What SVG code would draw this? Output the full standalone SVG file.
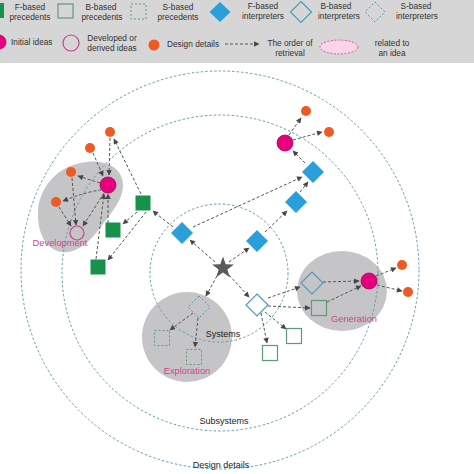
<svg xmlns="http://www.w3.org/2000/svg" width="474" height="474" viewBox="0 0 474 474">
<defs>
<marker id="ah" viewBox="0 0 10 10" refX="9" refY="5" markerWidth="7" markerHeight="5.5" orient="auto" markerUnits="userSpaceOnUse"><path d="M0,0 L10,5 L0,10 Z" fill="#474747"/></marker>
<style>
.lt{font-family:"Liberation Sans",Arial,sans-serif;font-size:8.3px;fill:#333;text-anchor:middle}
.lbl{font-family:"Liberation Sans",Arial,sans-serif;font-size:9px;fill:#222;text-anchor:middle}
.pk{font-family:"Liberation Sans",Arial,sans-serif;font-size:9.3px;fill:#d2438f;text-anchor:middle}
.ring{fill:none;stroke:#5f9fb3;stroke-width:1;stroke-dasharray:2.5,2}
.blob{fill:#c5c5c7}
.fsq{fill:#17924a}
.bsq{fill:#fff;stroke:#5a9c78;stroke-width:1.2}
.ssq{fill:none;stroke:#5a9c78;stroke-width:1;stroke-dasharray:2,2}
.fdi{fill:#2a9fd9}
.bdi{fill:#fff;stroke:#4a9bbf;stroke-width:1.2}
.sdi{fill:none;stroke:#4a9bbf;stroke-width:1;stroke-dasharray:2,2}
.mag{fill:#e5007d;stroke:#b0005e;stroke-width:0.8}
.dev{fill:none;stroke:#c9408e;stroke-width:1.2}
.org{fill:#ef5a24}
.ar{fill:none;stroke:#555;stroke-width:1;stroke-dasharray:3,2;marker-end:url(#ah)}
</style>
</defs>
<rect x="0" y="0" width="474" height="474" fill="#fff"/>
<g id="legend">
<rect x="0" y="0" width="474" height="63" fill="#d6d6d6"/>
<rect class="fsq" x="-11" y="3" width="15" height="15"/>
<text class="lt" x="30" y="10">F-based</text><text class="lt" x="30" y="20">precedents</text>
<rect class="bsq" x="58" y="4" width="15" height="14" style="fill:none"/>
<text class="lt" x="101" y="10">B-based</text><text class="lt" x="102" y="20">precedents</text>
<rect class="ssq" x="131" y="4" width="15" height="15"/>
<text class="lt" x="178" y="10">S-based</text><text class="lt" x="178" y="20">precedents</text>
<polygon class="fdi" points="220,2 230.5,12 220,22 209.5,12"/>
<text class="lt" x="263" y="9">F-based</text><text class="lt" x="263" y="19">interpreters</text>
<polygon class="bdi" points="301,1.5 311.5,12 301,22.5 290.5,12" style="fill:none"/>
<text class="lt" x="336" y="9">B-based</text><text class="lt" x="339" y="19">interpreters</text>
<polygon class="sdi" points="375,2 385,12 375,22 365,12"/>
<text class="lt" x="416" y="9">S-based</text><text class="lt" x="417" y="19">interpreters</text>
<circle class="mag" cx="-1" cy="42" r="7"/>
<text class="lt" x="11" y="45" style="text-anchor:start">Initial ideas</text>
<circle class="dev" cx="71" cy="43" r="8"/>
<text class="lt" x="112" y="41">Developed or</text><text class="lt" x="112" y="51">derived ideas</text>
<circle class="org" cx="154" cy="45" r="5.5"/>
<text class="lt" x="167" y="47" style="text-anchor:start">Design details</text>
<line class="ar" x1="225" y1="44" x2="259" y2="44"/>
<text class="lt" x="290" y="46">The order of</text><text class="lt" x="290" y="56">retrieval</text>
<ellipse cx="339" cy="47" rx="19" ry="7" fill="#f9d5e7" stroke="#c9408e" stroke-width="0.8" stroke-dasharray="2,1.5"/>
<text class="lt" x="392" y="46">related to</text><text class="lt" x="392" y="56">an idea</text>
</g>
<g id="regions">
<path class="blob" d="M80,163 C100,158 123,165 123,185 C123,201 110,214 100,228 C90,242 76,254 62,252 C45,250 37,231 38,211 C39,190 55,168 80,163 Z"/>
<circle class="blob" cx="187" cy="337" r="45"/>
<ellipse class="blob" cx="342" cy="291" rx="45" ry="40"/>
</g>
<g id="rings">
<circle class="ring" cx="220" cy="270" r="199"/>
<circle class="ring" cx="220" cy="273" r="158"/>
<circle class="ring" cx="219" cy="273" r="69"/>
</g>
<g id="connectors">
<line class="ar" x1="141" y1="194" x2="114" y2="139"/>
<line class="ar" x1="137" y1="212" x2="123" y2="224"/>
<line class="ar" x1="146" y1="212" x2="108" y2="260"/>
<line class="ar" x1="173" y1="227" x2="153" y2="211"/>
<line class="ar" x1="110" y1="138" x2="109" y2="175"/>
<line class="ar" x1="93" y1="153" x2="103" y2="176"/>
<line class="ar" x1="100" y1="183" x2="78" y2="176"/>
<path class="ar" d="M101,190 Q85,192 63,201"/>
<line class="ar" x1="59" y1="207" x2="71" y2="226"/>
<line class="ar" x1="72" y1="178" x2="76" y2="225"/>
<line class="ar" x1="104" y1="193" x2="83" y2="226"/>
<line class="ar" x1="96" y1="259" x2="104" y2="194"/>
<line class="ar" x1="108" y1="223" x2="108" y2="194"/>
<line class="ar" x1="215" y1="262" x2="190" y2="240"/>
<line class="ar" x1="229" y1="262" x2="249" y2="248"/>
<line class="ar" x1="229" y1="275" x2="249" y2="297"/>
<line class="ar" x1="217" y1="276" x2="206" y2="296"/>
<line class="ar" x1="193" y1="227" x2="302" y2="177"/>
<line class="ar" x1="265" y1="232" x2="287" y2="211"/>
<line class="ar" x1="300" y1="192" x2="308" y2="182"/>
<line class="ar" x1="305" y1="163" x2="293" y2="151"/>
<line class="ar" x1="289" y1="135" x2="301" y2="118"/>
<line class="ar" x1="293" y1="140" x2="322" y2="132"/>
<line class="ar" x1="265" y1="312" x2="286" y2="329"/>
<line class="ar" x1="261" y1="313" x2="267" y2="343"/>
<line class="ar" x1="268" y1="298" x2="300" y2="287"/>
<line class="ar" x1="268" y1="306" x2="310" y2="308"/>
<line class="ar" x1="193" y1="313" x2="170" y2="330"/>
<line class="ar" x1="198" y1="318" x2="195" y2="347"/>
<line class="ar" x1="323" y1="282" x2="359" y2="281"/>
<line class="ar" x1="327" y1="302" x2="361" y2="286"/>
<line class="ar" x1="376" y1="276" x2="396" y2="268"/>
<line class="ar" x1="377" y1="285" x2="402" y2="291"/>
</g>
<g id="star"><polygon points="223,256.5 225.7,264.28 233.94,264.45 227.37,269.42 229.76,277.3 223,272.6 216.24,277.3 218.63,269.42 212.06,264.45 220.3,264.28" fill="#5a5a5a"/></g>
<g id="dev-ideas">
<circle class="mag" cx="108" cy="185" r="8"/>
<circle class="org" cx="110" cy="132" r="5"/>
<circle class="org" cx="90" cy="148" r="5"/>
<circle class="org" cx="71" cy="172" r="5"/>
<circle class="org" cx="56" cy="202" r="5"/>
<circle class="dev" cx="77" cy="233" r="7"/>
<text class="pk" x="60" y="246">Development</text>
</g>
<g id="f-precedents">
<rect class="fsq" x="135.5" y="195.5" width="15" height="15"/>
<rect class="fsq" x="105.5" y="222.5" width="15" height="15"/>
<rect class="fsq" x="90.5" y="259.5" width="15" height="15"/>
</g>
<g id="f-interpreters">
<polygon class="fdi" points="182,222 193,233 182,244 171,233"/>
<polygon class="fdi" points="257,230 268,241 257,252 246,241"/>
<polygon class="fdi" points="296,191 307,202 296,213 285,202"/>
<polygon class="fdi" points="313,161 324,172 313,183 302,172"/>
</g>
<g id="top-idea">
<circle class="mag" cx="285" cy="143" r="8"/>
<circle class="org" cx="306" cy="111" r="5"/>
<circle class="org" cx="329" cy="132" r="5"/>
</g>
<g id="b-nodes">
<polygon class="bdi" points="257,294 268,305 257,316 246,305"/>
<rect class="bsq" x="286.5" y="328.5" width="15" height="15"/>
<rect class="bsq" x="262.5" y="345.5" width="15" height="15"/>
</g>
<g id="exploration">
<polygon class="sdi" points="199,296 210,307 199,318 188,307"/>
<rect class="ssq" x="154.5" y="330.5" width="15" height="15"/>
<rect class="ssq" x="186.5" y="349.5" width="15" height="15"/>
<text class="pk" x="187" y="374">Exploration</text>
</g>
<g id="generation">
<polygon class="bdi" points="312,272 323,283 312,294 301,283" style="fill:none"/>
<rect class="bsq" x="311.5" y="300.5" width="15" height="15" style="fill:none"/>
<circle class="mag" cx="369" cy="281" r="8"/>
<circle class="org" cx="402" cy="265" r="5"/>
<circle class="org" cx="408" cy="292" r="5"/>
<text class="pk" x="354" y="322">Generation</text>
</g>
<g id="labels">
<text class="lbl" x="223" y="337">Systems</text>
<text class="lbl" x="224" y="424">Subsystems</text>
<text class="lbl" x="221" y="468">Design details</text>
</g>
</svg>
